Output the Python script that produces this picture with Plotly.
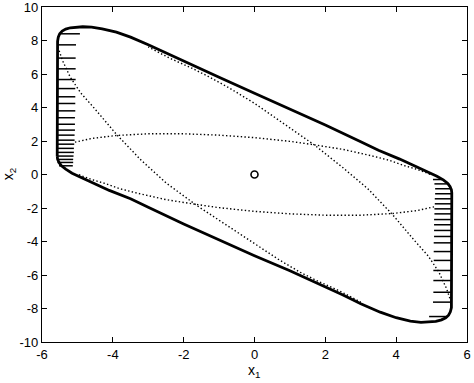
import plotly.graph_objects as go

# ---- data ----
# limit cycle (thick curve), upper half left->right
cycle_upper_x = [-5.57, -5.57, -5.56, -5.54, -5.5, -5.43, -5.33, -5.2, -5.05, -4.85, -4.6, -4.3, -3.9, -3.5,
                 -3.0, -2.5, -2.0, -1.0, 0.0, 1.0, 2.0, 3.0, 3.5, 4.1, 4.6, 4.9, 5.15, 5.33, 5.45, 5.52, 5.56, 5.57]
cycle_upper_y = [1.1, 7.6, 7.95, 8.2, 8.4, 8.56, 8.68, 8.76, 8.8, 8.82, 8.8, 8.7, 8.5, 8.2,
                 7.75, 7.25, 6.75, 5.8, 4.85, 3.9, 2.95, 1.95, 1.45, 0.92, 0.45, 0.15, -0.1, -0.32, -0.52, -0.72, -0.92, -1.1]
# lower half right->left
cycle_lower_x = [5.57, 5.56, 5.53, 5.48, 5.4, 5.28, 5.12, 4.95, 4.7, 4.4, 4.0, 3.55, 3.0, 2.5, 2.0, 1.0, 0.0,
                 -1.0, -2.0, -3.0, -3.5, -4.1, -4.6, -4.9, -5.15, -5.33, -5.45, -5.52, -5.56, -5.57]
cycle_lower_y = [-7.6, -7.95, -8.2, -8.4, -8.56, -8.68, -8.77, -8.81, -8.83, -8.76, -8.55, -8.22, -7.72, -7.2,
                 -6.72, -5.75, -4.85, -3.9, -2.95, -1.95, -1.45, -0.95, -0.48, -0.18, 0.08, 0.32, 0.52, 0.72, 0.92, 1.1]

# chattering marks on the vertical sides
left_dash_y = [8.4, 7.74, 6.95, 6.31, 5.67, 5.13, 4.64, 4.24, 3.8, 3.39, 3.0, 2.65, 2.35, 2.05,
               1.81, 1.56, 1.32, 1.1, 0.9, 0.72, 0.52]
left_dash_start = [-5.5, -5.56, -5.57, -5.57, -5.57, -5.57, -5.57, -5.57, -5.57, -5.57, -5.57, -5.57,
                   -5.57, -5.57, -5.57, -5.57, -5.57, -5.57, -5.57, -5.56, -5.52]
left_dash_end = [-4.93, -5.04, -5.05, -5.05, -5.05, -5.06, -5.06, -5.06, -5.06, -5.07, -5.07, -5.07,
                 -5.08, -5.08, -5.09, -5.1, -5.1, -5.11, -5.12, -5.12, -5.13]
right_dash_y = [-0.3, -0.56, -0.85, -1.15, -1.45, -1.75, -2.05, -2.35, -2.69, -3.0, -3.34, -3.7, -4.08,
                -4.6, -5.13, -5.73, -6.33, -7.03, -7.62, -8.48]
right_dash_start = [5.04, 5.08, 5.1, 5.1, 5.09, 5.09, 5.08, 5.08, 5.07, 5.07, 5.07, 5.07, 5.06,
                    5.06, 5.06, 5.05, 5.05, 5.05, 5.04, 4.93]
right_dash_end = [5.3, 5.5, 5.56, 5.57, 5.57, 5.57, 5.57, 5.57, 5.57, 5.57, 5.57, 5.57, 5.57,
                  5.57, 5.57, 5.57, 5.57, 5.57, 5.57, 5.45]

# dotted trajectories
traj_u_x = [-5.07, -4.6, -3.9, -3.0, -2.0, -1.0, 0.0, 1.0, 1.6, 2.5, 3.3, 3.8, 4.2, 4.6, 5.0]
traj_u_y = [1.93, 2.15, 2.33, 2.43, 2.43, 2.35, 2.2, 1.98, 1.8, 1.5, 1.12, 0.85, 0.55, 0.3, -0.02]
traj_l_x = [5.07, 4.6, 3.9, 3.0, 2.0, 1.0, 0.0, -1.0, -1.6, -2.5, -3.3, -3.8, -4.2, -4.6, -5.0]
traj_l_y = [-1.93, -2.15, -2.33, -2.43, -2.43, -2.35, -2.2, -1.98, -1.8, -1.5, -1.12, -0.85, -0.55, -0.3, 0.02]
traj_a_x = [-5.55, -5.42, -5.2, -4.9, -4.5, -3.9, -3.2, -2.5, -1.63, -0.8, 0.0, 0.7, 1.3, 1.8, 2.4, 3.0]
traj_a_y = [7.6, 6.8, 5.8, 4.85, 3.9, 2.4, 0.85, -0.5, -1.85, -3.0, -4.15, -5.1, -5.85, -6.38, -6.95, -7.62]
traj_b_x = [5.55, 5.42, 5.2, 4.9, 4.5, 3.9, 3.2, 2.5, 1.7, 0.8, 0.0, -0.7, -1.3, -1.8, -2.4, -3.0]
traj_b_y = [-7.6, -6.8, -5.8, -4.85, -3.9, -2.4, -0.85, 0.4, 1.75, 3.05, 4.25, 5.15, 5.85, 6.38, 6.95, 7.62]

# equilibrium
eq_x = [0.0]
eq_y = [0.0]

x_ticks = [-6, -4, -2, 0, 2, 4, 6]
x_labels = ["-6", "-4", "-2", "0", "2", "4", "6"]
y_ticks = [-10, -8, -6, -4, -2, 0, 2, 4, 6, 8, 10]
y_labels = ["-10", "-8", "-6", "-4", "-2", "0", "2", "4", "6", "8", "10"]

FONT = "Liberation Sans, Arial, Helvetica, sans-serif"

fig = go.Figure()

dotted = dict(color="black", width=1.4, dash="1.4px,2.3px")
for tx, ty in [(traj_u_x, traj_u_y), (traj_l_x, traj_l_y), (traj_a_x, traj_a_y), (traj_b_x, traj_b_y)]:
    fig.add_trace(go.Scatter(x=tx, y=ty, mode="lines", line=dotted, hoverinfo="skip", showlegend=False))

# chattering dashes
dx, dy = [], []
for y, s, e in zip(left_dash_y, left_dash_start, left_dash_end):
    dx += [s, e, None]
    dy += [y, y, None]
for y, s, e in zip(right_dash_y, right_dash_start, right_dash_end):
    dx += [s, e, None]
    dy += [y, y, None]
fig.add_trace(go.Scatter(x=dx, y=dy, mode="lines", line=dict(color="black", width=1.5),
                         hoverinfo="skip", showlegend=False))

# limit cycle
cx = cycle_upper_x + cycle_lower_x + [cycle_upper_x[0]]
cy = cycle_upper_y + cycle_lower_y + [cycle_upper_y[0]]
fig.add_trace(go.Scatter(x=cx, y=cy, mode="lines", line=dict(color="black", width=2.8),
                         hoverinfo="skip", showlegend=False))

fig.add_trace(go.Scatter(x=eq_x, y=eq_y, mode="markers",
                         marker=dict(symbol="circle-open", size=7, color="black", line=dict(width=1.6)),
                         hoverinfo="skip", showlegend=False))

axis_common = dict(showgrid=False, zeroline=False, showline=True, linecolor="black", linewidth=1.2,
                   mirror="ticks", ticks="inside", ticklen=5, tickwidth=1, tickcolor="black",
                   automargin=False, ticklabeloverflow="allow",
                   tickfont=dict(family=FONT, size=13, color="black"))

fig.update_layout(
    width=474, height=383,
    margin=dict(l=42, r=7, t=7, b=41),
    paper_bgcolor="white", plot_bgcolor="white",
    font=dict(family=FONT, color="black"),
    xaxis=dict(range=[-6, 6], tickvals=x_ticks, ticktext=x_labels, **axis_common),
    yaxis=dict(range=[-10, 10], tickvals=y_ticks, ticktext=y_labels, **axis_common),
    annotations=[
        dict(text="x<sub>1</sub>", xref="paper", yref="paper", x=0.499, y=-0.088,
             xanchor="center", yanchor="middle", showarrow=False,
             font=dict(family=FONT, size=14, color="black")),
        dict(text="x<sub>2</sub>", xref="paper", yref="paper", x=-0.078, y=0.5,
             xanchor="center", yanchor="middle", showarrow=False, textangle=-90,
             font=dict(family=FONT, size=14, color="black")),
    ],
)

fig.write_html("out.html", config={"displayModeBar": False},
               post_script="document.body.style.margin='0';document.body.style.padding='0';")
